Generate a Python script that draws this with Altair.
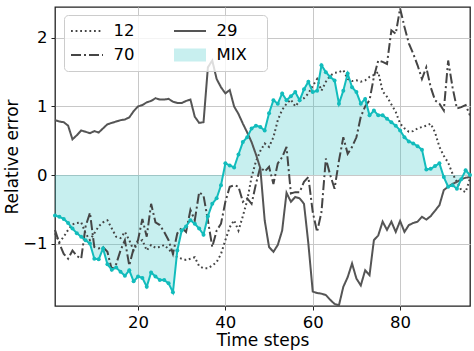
import altair as alt
import pandas as pd

# ---------------- data ----------------
t = list(range(1, 97))

s12 = [-0.85, -0.98, -0.90, -0.80, -0.72, -0.70, -0.69, -0.85, -0.95, -0.85,
       -0.75, -0.69, -0.66, -0.78, -0.90, -0.92, -0.83, -0.95, -1.10, -0.98,
       -0.95, -1.10, -1.02, -1.06, -1.05, -1.02, -1.08, -1.15, -1.20, -1.22,
       -1.24, -1.22, -1.20, -1.33, -1.36, -1.36, -1.32, -1.27, -1.15, -0.95,
       -0.76, -0.66, -0.81, -0.60, -0.37, -0.03, 0.20, 0.35, 0.46, 0.41,
       0.55, 0.80, 0.95, 1.04, 1.10, 1.00, 1.08, 1.12, 1.19, 1.30,
       1.40, 1.23, 1.36, 1.45, 1.49, 1.50, 1.53, 1.40, 1.37, 1.38,
       1.36, 1.38, 1.43, 1.46, 1.50, 1.22, 1.14, 1.03, 0.92, 0.75,
       0.68, 0.63, 0.64, 0.68, 0.70, 0.72, 0.75, 0.62, 0.41, 0.28,
       0.18, 0.02, -0.10, -0.22, -0.25, -0.05]

s70 = [-0.80, -1.00, -1.15, -1.22, -1.10, -1.18, -1.22, -0.75, -0.55, -1.05,
       -1.07, -1.05, -1.12, -1.38, -1.30, -1.10, -0.95, -1.32, -1.07, -0.95,
       -0.64, -0.90, -0.42, -0.69, -0.73, -0.83, -0.95, -1.15, -0.85, -0.77,
       -0.83, -0.51, -0.66, -0.25, -0.30, -0.66, -1.05, -0.81, -0.71, -0.39,
       -0.17, -0.15, -0.17, -0.39, -0.34, -0.42, -0.13, 0.12, 0.05, 0.12,
       -0.13, 0.17, 0.26, 0.41, -0.27, -0.25, -0.25, -0.10, -0.03, -0.54,
       -0.83, -0.54, 0.24, 0.00, -0.20, 0.21, 0.55, 0.31, 0.41, 0.55,
       0.85, 1.00, 1.09, 1.43, 1.67, 1.65, 1.62, 2.11, 2.06, 2.43,
       2.16, 1.92, 1.77, 1.60, 1.40, 1.57, 1.28, 1.09, 1.04, 0.94,
       1.67, 1.28, 0.97, 0.99, 1.02, 0.87]

s29 = [0.80, 0.78, 0.77, 0.72, 0.52, 0.58, 0.65, 0.63, 0.61, 0.64,
       0.62, 0.68, 0.74, 0.76, 0.78, 0.80, 0.81, 0.84, 0.93, 1.00,
       1.02, 1.06, 1.08, 1.12, 1.10, 1.10, 1.11, 1.07, 1.05, 1.05,
       1.08, 1.10, 0.85, 0.76, 0.77, 1.57, 1.67, 1.40, 1.28, 1.19,
       1.24, 1.00, 0.89, 0.75, 0.62, 0.48, 0.30, 0.10, -0.66, -1.05,
       -1.12, -1.02, -0.81, -0.26, -0.39, -0.32, -0.34, -0.42, -1.00, -1.70,
       -1.72, -1.73, -1.75, -1.82, -1.88, -1.90, -1.63, -1.49, -1.29, -1.51,
       -1.61, -1.39, -1.46, -0.95, -0.88, -0.68, -0.80, -0.68, -0.83, -0.67,
       -0.83, -0.73, -0.70, -0.68, -0.61, -0.65, -0.60, -0.52, -0.44, -0.22,
       -0.17, -0.13, -0.10, -0.06, -0.04, -0.03]

mix = [-0.59, -0.61, -0.64, -0.70, -0.78, -0.85, -0.90, -0.95, -1.00, -1.22,
       -1.23, -1.07, -1.30, -1.38, -1.35, -1.41, -1.47, -1.39, -1.55, -1.48,
       -1.50, -1.63, -1.42, -1.48, -1.53, -1.53, -1.58, -1.71, -1.10, -0.81,
       -0.75, -0.66, -0.71, -0.78, -0.87, -0.60, -0.42, -0.34, -0.15, 0.17,
       0.14, 0.11, 0.30, 0.48, 0.55, 0.68, 0.72, 0.70, 0.65, 0.90,
       1.09, 1.04, 1.19, 1.09, 1.15, 1.21, 1.09, 1.25, 1.36, 1.21,
       1.23, 1.60, 1.50, 1.43, 1.38, 1.04, 1.23, 1.48, 1.28, 1.21,
       1.04, 1.11, 0.87, 0.94, 0.87, 0.87, 0.82, 0.77, 0.72, 0.65,
       0.55, 0.49, 0.46, 0.42, 0.37, 0.08, 0.09, 0.13, 0.17, -0.03,
       -0.17, -0.15, -0.20, -0.06, 0.07, 0.00]

# legend order (filled column by column): 12, 70 | 29, MIX
series_names = ["12", "70", "29", "MIX"]
x_ticks = [20, 40, 60, 80]
y_ticks = [-1, 0, 1, 2]

# ---------------- tables ----------------
rows = []
for name, vals in (("12", s12), ("70", s70), ("29", s29)):
    for ti, v in zip(t, vals):
        rows.append({"t": ti, "v": v, "series": name})
lines_df = pd.DataFrame(rows)
mix_df = pd.DataFrame({"t": t, "v": mix, "zero": [0.0] * len(t)})

FONT = "DejaVu Sans"
MIX_LINE = "#12bcbc"
MIX_FILL = "#20c0c0"

x_scale = alt.Scale(domain=[1, 96], nice=False, zero=False)
y_scale = alt.Scale(domain=[-1.91, 2.45], nice=False, zero=False)

x_axis = alt.Axis(values=x_ticks, title="Time steps", titleY=39.5,
                  titleBaseline="alphabetic", format="d")
y_axis = alt.Axis(values=y_ticks, title="Relative error", titleX=-37.5,
                  titleBaseline="alphabetic", format="d")

X = alt.X("t:Q", scale=x_scale, axis=x_axis)
Y = alt.Y("v:Q", scale=y_scale, axis=y_axis)

# a transparent spacer title on the right widens the legend box
legend = alt.Legend(
    title="xx", titleOrient="right", titleColor="transparent",
    titleFontSize=10, titlePadding=2, titleFont=FONT,
    orient="none", legendX=9, legendY=8, columns=2,
    symbolType="M-1,0H7", symbolSize=64, clipHeight=22,
    symbolOffset=-4.5, labelOffset=28,
    padding=5, rowPadding=2, columnPadding=37,
    fillColor="rgba(255,255,255,0.8)", strokeColor="#cccccc", cornerRadius=4,
    labelFont=FONT, labelFontSize=16.5, labelColor="black",
)

area = alt.Chart(mix_df).mark_area(color=MIX_FILL, opacity=0.25).encode(
    x=X, y=Y, y2=alt.Y2("zero:Q")
)

lines = alt.Chart(lines_df).mark_line(strokeCap="butt").encode(
    x=X, y=Y,
    stroke=alt.Stroke("series:N", legend=legend,
                      scale=alt.Scale(domain=series_names,
                                      range=["#454545", "#454545", "#555555", "#c8efef"])),
    strokeDash=alt.StrokeDash("series:N", legend=legend,
                              scale=alt.Scale(domain=series_names,
                                              range=[[1.8, 2.8], [10, 3, 2, 3], [1, 0], [1, 0]])),
    strokeWidth=alt.StrokeWidth("series:N", legend=legend,
                                scale=alt.Scale(type="ordinal", domain=series_names,
                                                range=[2, 2, 2, 13])),
)

mix_line = alt.Chart(mix_df).mark_line(color=MIX_LINE, strokeWidth=2).encode(x=X, y=Y)
mix_pts = alt.Chart(mix_df).mark_circle(color=MIX_LINE, size=16, opacity=1).encode(x=X, y=Y)

chart = (
    alt.layer(area, lines, mix_line, mix_pts)
    .properties(width=415, height=299,
                padding={"left": 55, "top": 7, "right": 4, "bottom": 45},
                autosize=alt.AutoSizeParams(type="none"))
    .configure_view(stroke="#222222", strokeWidth=1.3)
    .configure_axis(
        labelFont=FONT, labelFontSize=16.5, labelColor="black",
        titleFont=FONT, titleFontSize=17, titleColor="black", titleFontWeight="normal",
        domain=False, tickColor="#222222", tickSize=4, tickWidth=1,
        labelPadding=4, gridColor="#c8c8c8", gridWidth=1,
    )
)

chart.save("out.html", embed_options={"renderer": "svg", "actions": False})
